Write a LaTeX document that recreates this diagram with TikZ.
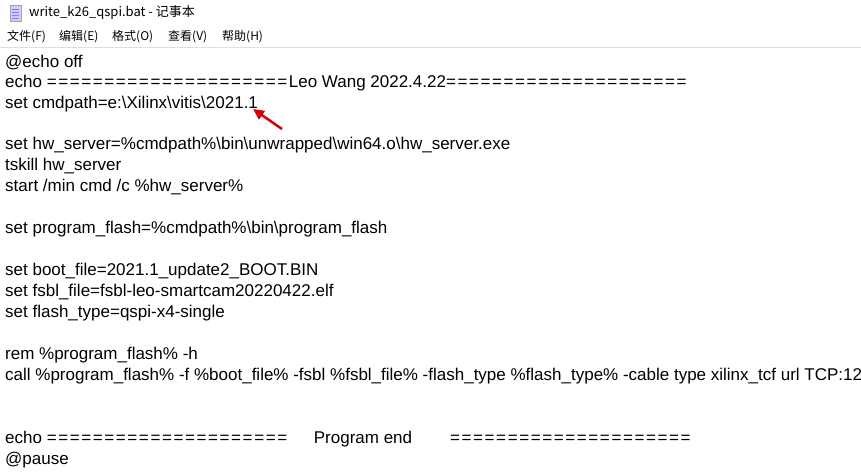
\documentclass[tikz,border=0pt]{standalone}
\usepackage{fontspec}
\setmainfont{Liberation Sans}
\newfontfamily\cjk{Noto Sans CJK SC}
\usetikzlibrary{arrows.meta}
\newcommand\myeqs[1]{\foreach \i in {1,...,#1}{=\kern1.6pt}}
\begin{document}
\begin{tikzpicture}[x=1pt,y=-1pt,
  code/.style={anchor=base west,inner sep=0pt,font=\fontsize{17}{20}\selectfont},
  menu/.style={anchor=west,inner sep=0pt,font=\cjk\fontsize{12}{14}\selectfont}]
\useasboundingbox (0,0) rectangle (861,475);
\fill[white] (0,0) rectangle (861,475);
\draw[gray!25] (0,47.5) -- (861,47.5);
% icon
\fill[blue!20] (10,5) rectangle (21,21);
\draw[gray!70] (10,5) rectangle (21,21);
\foreach \yy in {9,12,15,18} \draw[blue!50] (12,\yy) -- (19,\yy);
\node[menu,font=\cjk\fontsize{13}{15}\selectfont] (title) at (29,13) {write\_k26\_qspi.bat - 记事本};
\node[menu] (m1) at (7,37) {文件(F)};
\node[menu] (m2) at (59,37) {编辑(E)};
\node[menu] (m3) at (112,37) {格式(O)};
\node[menu] (m4) at (168,37) {查看(V)};
\node[menu] (m5) at (222,37) {帮助(H)};
\begin{scope}
\clip (0,48) rectangle (861,475);
\node[code] (l1) at (5,67) {@echo off};
\node[code] (l2) at (5,87) {echo \myeqs{21}Leo Wang 2022.4.22\myeqs{21}};
\node[code] (l3) at (5,108) {set cmdpath=e:\textbackslash Xilinx\textbackslash vitis\textbackslash 2021.1};
\node[code] (l4) at (5,149) {set hw\_server=\%cmdpath\%\textbackslash bin\textbackslash unwrapped\textbackslash win64.o\textbackslash hw\_server.exe};
\node[code] (l5) at (5,170) {tskill hw\_server};
\node[code] (l6) at (5,191) {start /min cmd /c \%hw\_server\%};
\node[code] (l7) at (5,233) {set program\_flash=\%cmdpath\%\textbackslash bin\textbackslash program\_flash};
\node[code] (l8) at (5,275) {set boot\_file=2021.1\_update2\_BOOT.BIN};
\node[code] (l9) at (5,296) {set fsbl\_file=fsbl-leo-smartcam20220422.elf};
\node[code] (l10) at (5,317) {set flash\_type=qspi-x4-single};
\node[code] (l11) at (5,359) {rem \%program\_flash\% -h};
\node[code] (l12) at (5,380) {call \%program\_flash\% -f \%boot\_file\% -fsbl \%fsbl\_file\% -flash\_type \%flash\_type\% -cable type xilinx\_tcf url TCP:127.0.0.1:3121};
\node[code] (l13) at (5,443) {echo \myeqs{21}\hspace{25pt}Program end\hspace{38pt}\myeqs{21}};
\node[code] (l14) at (5,464) {@pause};
\end{scope}
\coordinate (tail) at (282,129);
\coordinate (tip) at (253,109);
\draw[red!85!black,line width=2.5pt,-{Triangle[length=11pt,width=10pt]}] (tail) -- (tip);
\end{tikzpicture}
\end{document}
